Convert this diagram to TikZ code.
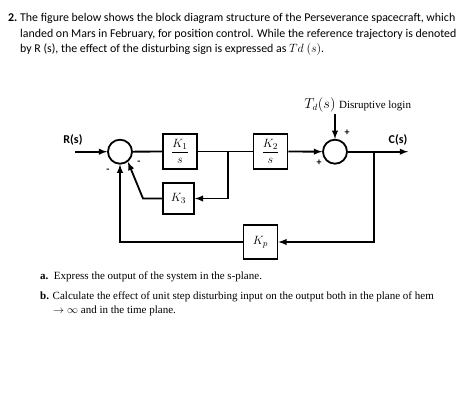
\documentclass[tikz,border=0pt]{standalone}
\usepackage{amsmath}
\usepackage{fontspec}
\setmainfont{Liberation Serif}
\newfontfamily\calib{Carlito}
\usetikzlibrary{positioning}
\tikzset{
  block/.style = {rectangle,draw=black,fill=white,line width=1.8,inner sep=0pt,minimum width=34pt,minimum height=35pt,font=\fontsize{13}{14}\selectfont},
  sum/.style = {circle,draw=black,fill=white,line width=1.8,inner sep=0pt,minimum size=24pt},
  edge/.style = {->,>=latex,line width=1.8,black},
  wire/.style = {line width=1.8,black},
  header/.style = {anchor=base west,inner sep=0pt,font=\calib\fontsize{11.9}{13}\selectfont},
  question/.style = {anchor=base west,inner sep=0pt,font=\fontsize{11}{13}\selectfont},
  sign/.style = {inner sep=0pt,font=\calib\bfseries\fontsize{10}{12}\selectfont},
  signal/.style = {inner sep=0pt,font=\calib\bfseries\fontsize{12}{14}\selectfont},
}
\begin{document}
\begin{tikzpicture}[x=1pt,y=-1pt]
    \useasboundingbox[fill=white] (0,0) rectangle (474,404);

    % text of the exercise
    \node[header] at (8,22) (num) {\textbf{2.}};
    \node[header] at (20,22) (l1) {The figure below shows the block diagram structure of the Perseverance spacecraft, which};
    \node[header] at (20,37.5) (l2) {landed on Mars in February, for position control. While the reference trajectory is denoted};
    \node[header] at (20,53) (l3) {by R (s), the effect of the disturbing sign is expressed as $Td\ (s)$.};

    % blocks
    \node[sum] at (120,151.7) (s1) {};
    \node[block] at (180,151.5) (k1) {$\dfrac{K_1}{s}$};
    \node[block,minimum width=31pt,minimum height=31pt] at (178.5,198.5) (k3) {$K_3$};
    \node[block] at (270.5,151.5) (k2) {$\dfrac{K_2}{s}$};
    \node[sum] at (335,151.7) (s2) {};
    \node[block,minimum height=34pt] at (260.5,242) (kp) {$K_p$};

    \coordinate (rin) at (75,151.7);
    \coordinate (out) at (408,151.7);
    \coordinate (br1) at (228,151.7);
    \coordinate (br2) at (374,151.7);
    \coordinate (td) at (335,114);
    \coordinate (bend) at (143,198.5);

    \node[signal] at (73,140) (rlab) {R(s)};
    \node[signal] at (398,140) (clab) {C(s)};
    \node[inner sep=0pt,font=\fontsize{13.5}{15}\selectfont] at (320,105) (tdlab) {$T_d(s)$};
    \node[anchor=west,inner sep=0pt,font=\fontsize{11}{12}\selectfont] at (339,106) (dlab) {Disruptive login};

    % forward path
    \draw[edge] (rin) -- (s1);
    \draw[wire] (s1) -- (k1);
    \draw[wire] (k1) -- (k2);
    \draw[edge] (k2) -- (s2);
    \draw[edge] (s2) -- (out);
    \draw[edge] (td) -- (s2);

    % inner loop
    \draw[edge] (br1) |- (k3);
    \draw[edge] (k3) -- (bend) -- (s1.-52);

    % outer loop
    \draw[edge] (br2) |- (kp);
    \draw[edge] (kp) -| (s1);

    % signs
    \node[sign] at (139,163) (m1) {-};
    \node[sign] at (108,171) (m2) {-};
    \node[sign] at (347,133) (p1) {+};
    \node[sign] at (319,163) (p2) {+};

    % questions
    \node[question] at (40,279) (qa) {\textbf{a.}\enspace Express the output of the system in the s-plane.};
    \node[question] at (40,299) (qb) {\textbf{b.} Calculate the effect of unit step disturbing input on the output both in the plane of hem};
    \node[question] at (53,313.5) (qc) {$\rightarrow\infty$ and in the time plane.};
\end{tikzpicture}
\end{document}
